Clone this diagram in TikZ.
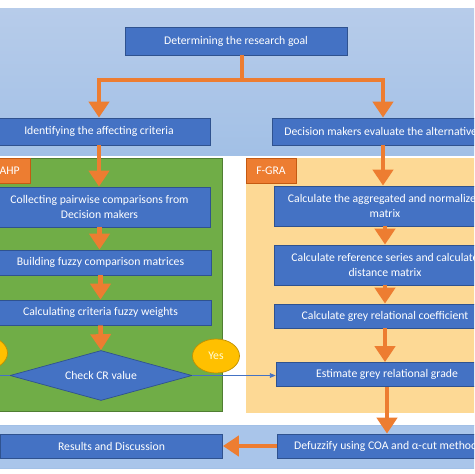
\documentclass[tikz,border=0pt]{standalone}
\usepackage{fontspec}
\setmainfont{Carlito}
\usetikzlibrary{arrows.meta,shapes.geometric}
\definecolor{boxblue}{HTML}{4472C4}
\definecolor{boxedge}{HTML}{2F528F}
\definecolor{floworange}{HTML}{ED7D31}
\definecolor{tagedge}{HTML}{C55A11}
\definecolor{ahpgreen}{HTML}{70AD47}
\definecolor{ahpedge}{HTML}{507E32}
\definecolor{grafill}{HTML}{FDD995}
\definecolor{bandtop}{HTML}{B7CCEA}
\definecolor{bandbot}{HTML}{A2C0E6}
\definecolor{bandlow}{HTML}{A9C5EA}
\definecolor{answerfill}{HTML}{FFC000}
\definecolor{answeredge}{HTML}{BF9000}

\tikzset{
  stepbox/.style={draw=boxedge, fill=boxblue, text=white, line width=0.6pt,
    minimum width=6.66cm, inner sep=1pt, align=center,
    font=\fontsize{10}{12.8}\selectfont},
  check/.style={diamond, shape aspect=3.64, draw=boxedge, fill=boxblue, text=white,
    line width=0.6pt, minimum width=5.46cm, minimum height=1.5cm, inner sep=0pt,
    font=\fontsize{10}{12.8}\selectfont},
  tag/.style={draw=tagedge, fill=floworange, text=white, line width=0.6pt,
    minimum height=0.75cm, font=\fontsize{10}{12.8}\selectfont},
  answer/.style={ellipse, draw=answeredge, fill=answerfill, text=white!85!yellow,
    line width=0.6pt, minimum width=1.41cm, minimum height=1.02cm, inner sep=0pt,
    font=\fontsize{10}{12.8}\selectfont},
  flow/.style={draw=floworange, line width=0.14cm,
    -{Triangle[width=0.6cm,length=0.48cm]}},
  flowline/.style={draw=floworange, line width=0.14cm},
  link/.style={draw=boxblue, line width=0.8pt, -{Triangle[width=4pt,length=5pt]}}
}

\begin{document}
\begin{tikzpicture}[x=0.03cm,y=-0.03cm]
\useasboundingbox (0,0) rectangle (474,474);
\clip (0,0) rectangle (474,474);
\fill[white] (0,0) rectangle (474,474);

% backgrounds
\shade[top color=bandtop, bottom color=bandbot] (-20,8) rectangle (494,155);
\filldraw[fill=ahpgreen, draw=ahpedge, line width=0.6pt] (-20,158) rectangle (222,411);
\fill[grafill] (246,158) rectangle (494,413);
\filldraw[fill=bandlow, draw=bandbot, line width=0.6pt] (-20,425) rectangle (494,468);

% tags
\node[tag, anchor=north east, inner xsep=11*0.03cm] (ahptag) at (31,158) {AHP};
\node[tag, minimum width=1.5cm] (gratag) at (271,170.5) {F-GRA};

% steps
\node[stepbox, minimum height=0.84cm] (goal) at (236,41) {Determining the research goal};
\node[stepbox, minimum height=0.81cm] (ident) at (99,131.5) {Identifying the affecting criteria};
\node[stepbox, minimum height=0.81cm] (decide) at (383,131.5) {Decision makers evaluate the alternatives};
\node[stepbox, minimum height=1.2cm] (collect) at (99.5,207) {Collecting pairwise comparisons from\\Decision makers};
\node[stepbox, minimum height=0.75cm] (build) at (100.5,262.5) {Building fuzzy comparison matrices};
\node[stepbox, minimum height=0.75cm] (weights) at (100.5,312.5) {Calculating criteria fuzzy weights};
\node[check] (cr) at (101,375.5) {Check CR value};
\node[stepbox, minimum height=1.2cm] (aggr) at (385,206) {Calculate the aggregated and normalized\\matrix};
\node[stepbox, minimum height=1.2cm] (series) at (385,265) {Calculate reference series and calculate\\distance matrix};
\node[stepbox, minimum height=0.72cm] (coeff) at (385,316) {Calculate grey relational coefficient};
\node[stepbox, minimum height=0.72cm] (grade) at (387,374.5) {Estimate grey relational grade};
\node[stepbox, minimum height=0.72cm] (results) at (111.5,446) {Results and Discussion};
\node[stepbox, minimum height=0.72cm] (defuzz) at (388,446) {Defuzzify using COA and α-cut methods};

% answers
\node[answer] (yes) at (216,356) {Yes};
\node[answer] (no) at (-16,353) {};
\coordinate (noend) at (-20,375.5);

% connectors
\coordinate (split) at (242,80);
\draw[flowline] (split |- goal.south) -- (split);
\draw[flow] (split) -| (ident.north);
\draw[flow] (split) -| (decide.north);
\draw[flow] (ident.south) -- (ident.south |- collect.north);
\draw[flow] (collect.south) -- (collect.south |- build.north);
\draw[flow] (build.south) -- (build.south |- weights.north);
\draw[flow] (weights.south) -- (cr.north);
\draw[flow] (decide.south) -- (decide.south |- aggr.north);
\draw[flow] (aggr.south) -- (aggr.south |- series.north);
\draw[flow] (series.south) -- (series.south |- coeff.north);
\draw[flow] (coeff.south) -- (coeff.south |- grade.north);
\draw[flow] (grade.south) -- (grade.south |- defuzz.north);
\draw[flow] (defuzz.west) -- (results.east);
\draw[link] (cr.east) -- (cr.east -| grade.west);
\draw[draw=boxblue, line width=0.8pt] (cr.west) -- (noend);
\end{tikzpicture}
\end{document}
